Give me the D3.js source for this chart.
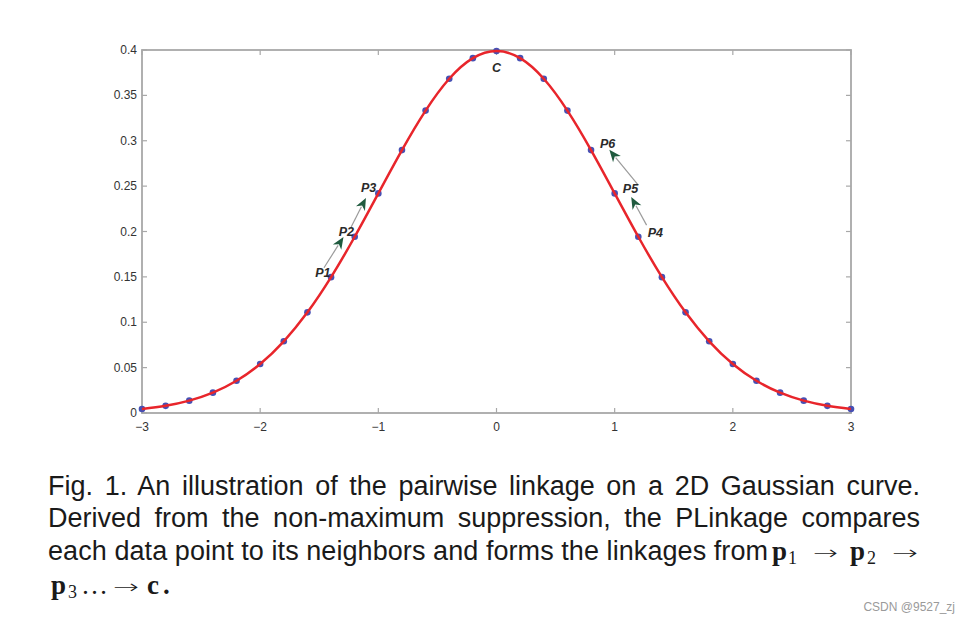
<!DOCTYPE html>
<html><head><meta charset="utf-8">
<script src="https://cdn.jsdelivr.net/npm/d3@7"></script>
<style>body{margin:0;background:#fff}svg{display:block}</style>
</head><body>
<script>
// ---- data ----
const xs = [-3,-2.8,-2.6,-2.4,-2.2,-2,-1.8,-1.6,-1.4,-1.2,-1,-0.8,-0.6,-0.4,-0.2,0,0.2,0.4,0.6,0.8,1,1.2,1.4,1.6,1.8,2,2.2,2.4,2.6,2.8,3];
const ys = [0.0044,0.0079,0.0136,0.0224,0.0355,0.0540,0.0790,0.1109,0.1497,0.1942,0.2420,0.2897,0.3332,0.3683,0.3910,0.3989,0.3910,0.3683,0.3332,0.2897,0.2420,0.1942,0.1497,0.1109,0.0790,0.0540,0.0355,0.0224,0.0136,0.0079,0.0044];
const xTicks = [-3,-2,-1,0,1,2,3];
const xTickLabels = ["\u22123","\u22122","\u22121","0","1","2","3"];
const yTicks = [0,0.05,0.1,0.15,0.2,0.25,0.3,0.35,0.4];
const yTickLabels = ["0","0.05","0.1","0.15","0.2","0.25","0.3","0.35","0.4"];
// point labels [text, x, y] in data units (x = label centre)
const pointLabels = [["P1",-1.47,0.150],["P2",-1.27,0.195],["P3",-1.083,0.2435],["P4",1.345,0.194],["P5",1.134,0.242],["P6",0.94,0.292],["C",0,0.376]];
// arrows [x0,y0,x1,y1] in data units
const arrows = [[-1.46,0.160,-1.295,0.194],[-1.23,0.205,-1.105,0.237],[1.27,0.207,1.14,0.238],[1.20,0.251,0.955,0.290]];
const captionLines = [
  "Fig. 1. An illustration of the pairwise linkage on a 2D Gaussian curve.",
  "Derived from the non-maximum suppression, the PLinkage compares"
];
const captionLine3 = "each data point to its neighbors and forms the linkages from";

const W = 969, H = 624;
const svg = d3.select("body").append("svg").attr("width", W).attr("height", H);
const L = 142, R = 851, T = 50, B = 413;
const x = d3.scaleLinear().domain([-3,3]).range([L,R]);
const y = d3.scaleLinear().domain([0,0.4]).range([B,T]);
const axisCol = "#a8a8a8";

// ticks inward on all four sides
const g = svg.append("g");
const tl = 5;
g.selectAll(".tb").data(xTicks).join("line").attr("x1",d=>x(d)).attr("x2",d=>x(d)).attr("y1",B).attr("y2",B-tl).attr("stroke",axisCol).attr("stroke-width",1.2);
g.selectAll(".tt").data(xTicks).join("line").attr("x1",d=>x(d)).attr("x2",d=>x(d)).attr("y1",T).attr("y2",T+tl).attr("stroke",axisCol).attr("stroke-width",1.2);
g.selectAll(".tl").data(yTicks).join("line").attr("x1",L).attr("x2",L+tl).attr("y1",d=>y(d)).attr("y2",d=>y(d)).attr("stroke",axisCol).attr("stroke-width",1.2);
g.selectAll(".tr").data(yTicks).join("line").attr("x1",R).attr("x2",R-tl).attr("y1",d=>y(d)).attr("y2",d=>y(d)).attr("stroke",axisCol).attr("stroke-width",1.2);
g.append("rect").attr("x",L).attr("y",T).attr("width",R-L).attr("height",B-T).attr("fill","none").attr("stroke",axisCol).attr("stroke-width",1.8);

// tick labels
g.selectAll(".xl").data(xTicks).join("text").attr("x",d=>x(d)).attr("y",B+18).attr("text-anchor","middle")
  .attr("font-family","Liberation Sans, Arial, sans-serif").attr("font-size",12).attr("fill","#333").text((d,i)=>xTickLabels[i]);
g.selectAll(".yl").data(yTicks).join("text").attr("x",L-5).attr("y",d=>y(d)+4).attr("text-anchor","end")
  .attr("font-family","Liberation Sans, Arial, sans-serif").attr("font-size",12).attr("fill","#333").text((d,i)=>yTickLabels[i]);

// data
const pts = xs.map((v,i)=>[v,ys[i]]);
svg.append("g").selectAll("circle").data(pts).join("circle").attr("cx",d=>x(d[0])).attr("cy",d=>y(d[1])).attr("r",3.3).attr("fill","#4650b4");
svg.append("path").datum(pts).attr("d",d3.line().x(d=>x(d[0])).y(d=>y(d[1])).curve(d3.curveNatural))
  .attr("fill","none").attr("stroke","#e8252b").attr("stroke-width",2.5);

// arrows
const ag = svg.append("g");
arrows.forEach(a=>{
  const x0=x(a[0]),y0=y(a[1]),x1=x(a[2]),y1=y(a[3]);
  const dx=x1-x0,dy=y1-y0,len=Math.hypot(dx,dy),ux=dx/len,uy=dy/len;
  const hl=12,hw=5;
  const bx=x1-ux*hl,by=y1-uy*hl;
  ag.append("line").attr("x1",x0).attr("y1",y0).attr("x2",bx+ux*2).attr("y2",by+uy*2).attr("stroke","#9a9a9a").attr("stroke-width",1.2);
  ag.append("path").attr("d",`M${x1},${y1}L${bx-uy*hw},${by+ux*hw}L${bx+ux*3.5},${by+uy*3.5}L${bx+uy*hw},${by-ux*hw}Z`).attr("fill","#1f5a3e");
});

// point labels
svg.append("g").selectAll("text").data(pointLabels).join("text")
  .attr("x",d=>x(d[1])).attr("y",d=>y(d[2])).attr("text-anchor","middle")
  .attr("font-family","Liberation Sans, Arial, sans-serif").attr("font-size",12.5).attr("font-weight","bold").attr("font-style","italic")
  .attr("fill","#2a2a2a").text(d=>d[0]);

// caption
const cx0 = 48, cx1 = 920;
const capFont = "Liberation Sans, Arial, sans-serif";
const baselines = [495, 527, 560, 594];
const line3W = 720;
const probe = svg.append("text").attr("font-family",capFont).attr("font-size",24).text(captionLine3);
const fs = Math.min(27, 24*line3W/probe.node().getComputedTextLength());
probe.remove();
svg.append("text").attr("x",cx0).attr("y",baselines[2]).attr("font-family",capFont).attr("font-size",fs).attr("fill","#1a1a1a")
  .attr("textLength",line3W).attr("lengthAdjust","spacing").text(captionLine3);
captionLines.forEach((t,i)=>{
  const el = svg.append("text").attr("x",cx0).attr("y",baselines[i]).attr("font-family",capFont).attr("font-size",fs).attr("fill","#1a1a1a").text(t);
  const w = el.node().getComputedTextLength();
  const n = (t.match(/ /g)||[]).length;
  el.attr("word-spacing", (cx1-cx0-w)/n);
});
const mf = "Liberation Serif, Times New Roman, serif";
function mathRun(parts, yb){
  parts.forEach(p=>{
    if(p.arrow){
      const t = svg.append("text").attr("font-family","DejaVu Sans, sans-serif").attr("font-weight",200)
        .attr("font-size",22).attr("fill","#1a1a1a").text(p.t);
      const w = t.node().getComputedTextLength();
      t.attr("transform",`translate(${p.x},${yb-1}) scale(${p.w/w},0.85)`);
      return;
    }
    svg.append("text").attr("x",p.x).attr("y",yb+(p.sub?4:0)).attr("font-family",mf)
      .attr("font-size",p.sub?18:27).attr("font-weight",p.bold?"bold":"normal")
      .attr("fill","#1a1a1a").text(p.t);
  });
}
mathRun([{t:"p",x:772,bold:true},{t:"1",x:788,sub:true},{t:"\u2192",x:813,arrow:true,w:25},{t:"p",x:850,bold:true},{t:"2",x:867,sub:true},{t:"\u2192",x:892,arrow:true,w:26}], baselines[2]);
mathRun([{t:"p",x:51,bold:true},{t:"3",x:68,sub:true},{t:"\u2026",x:81},{t:"\u2192",x:113,arrow:true,w:26},{t:"c",x:147,bold:true},{t:".",x:163,bold:true}], baselines[3]);

// watermark
svg.append("text").attr("x",955).attr("y",611).attr("text-anchor","end").attr("font-family",capFont).attr("font-size",12).attr("fill","#9a9a9a").text("CSDN @9527_zj");
</script>
</body></html>
